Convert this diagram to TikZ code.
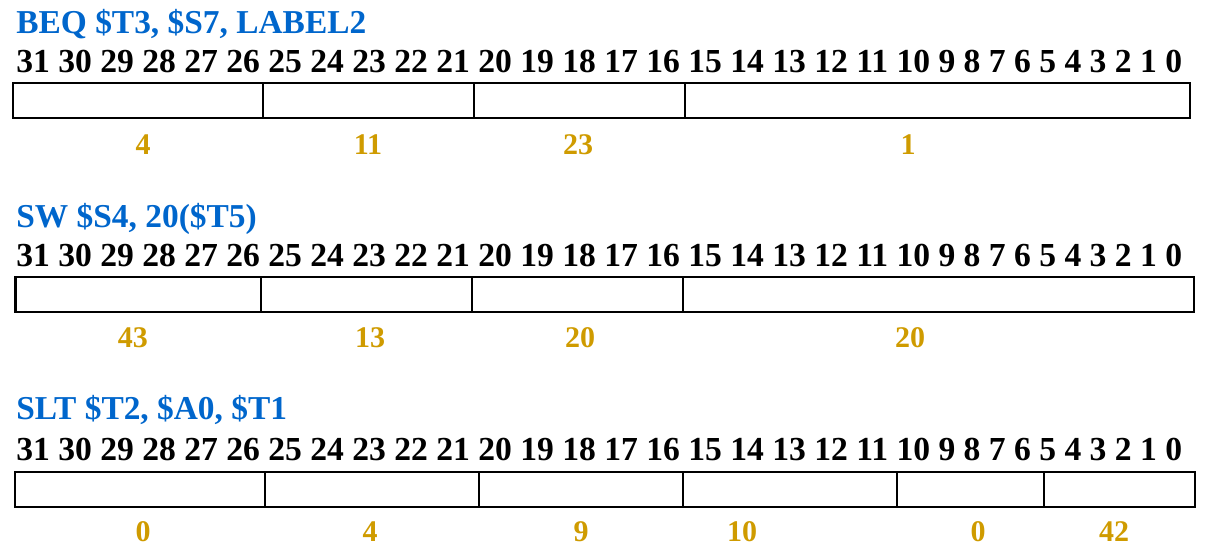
\documentclass[tikz,border=0pt]{standalone}
\usepackage{fontspec}
\setmainfont{Liberation Serif}

\definecolor{instblue}{RGB}{0,102,204}
\definecolor{fieldgold}{RGB}{207,155,0}

\tikzset{
  instr/.style={anchor=base west, inner sep=0pt, text=instblue,
    font=\fontsize{16.7pt}{20pt}\selectfont\bfseries},
  bitnums/.style={anchor=base west, inner sep=0pt,
    font=\fontsize{16.8pt}{20pt}\selectfont\bfseries},
  fieldval/.style={anchor=base, inner sep=0pt, text=fieldgold,
    font=\fontsize{15pt}{18pt}\selectfont\bfseries},
  fieldbox/.style={line width=1.35pt}
}

\newcommand{\bitrow}{31 30 29 28 27 26 25 24 23 22 21 20 19 18 17 16 15 14 13 12 11 10 9 8 7 6 5 4 3 2 1 0}

\begin{document}
\begin{tikzpicture}[x=0.5pt,y=-0.5pt]
  \useasboundingbox (0,0) rectangle (1207,558);

  % BEQ
  \node[instr] (beq) at (16,33) {BEQ \$T3, \$S7, LABEL2};
  \node[bitnums] (beqbits) at (16,72) {\bitrow};
  \draw[fieldbox] (13,83) rectangle (1190,118);
  \foreach \x in {263,474,685} \draw[fieldbox] (\x,83) -- (\x,118);
  \foreach \x/\v [count=\i] in {143/4,368/11,578/23,908/1}
    \node[fieldval] (beqv\i) at (\x,154) {\v};

  % SW
  \node[instr] (sw) at (16,227) {SW \$S4, 20(\$T5)};
  \node[bitnums] (swbits) at (16,266) {\bitrow};
  \draw[fieldbox] (15.5,277) rectangle (1194,312);
  \foreach \x in {261,472,683} \draw[fieldbox] (\x,277) -- (\x,312);
  \foreach \x/\v [count=\i] in {133/43,370/13,580/20,910/20}
    \node[fieldval] (swv\i) at (\x,347) {\v};

  % SLT
  \node[instr] (slt) at (16,419) {SLT \$T2, \$A0, \$T1};
  \node[bitnums] (sltbits) at (16,460) {\bitrow};
  \draw[fieldbox] (15,472) rectangle (1044,507);
  \draw[line width=1pt] (1044,472) rectangle (1195,507);
  \foreach \x in {265,479,683,897} \draw[fieldbox] (\x,472) -- (\x,507);
  \foreach \x/\v [count=\i] in {143/0,370/4,581/9,742/10,978/0,1114/42}
    \node[fieldval] (sltv\i) at (\x,541) {\v};
\end{tikzpicture}
\end{document}
